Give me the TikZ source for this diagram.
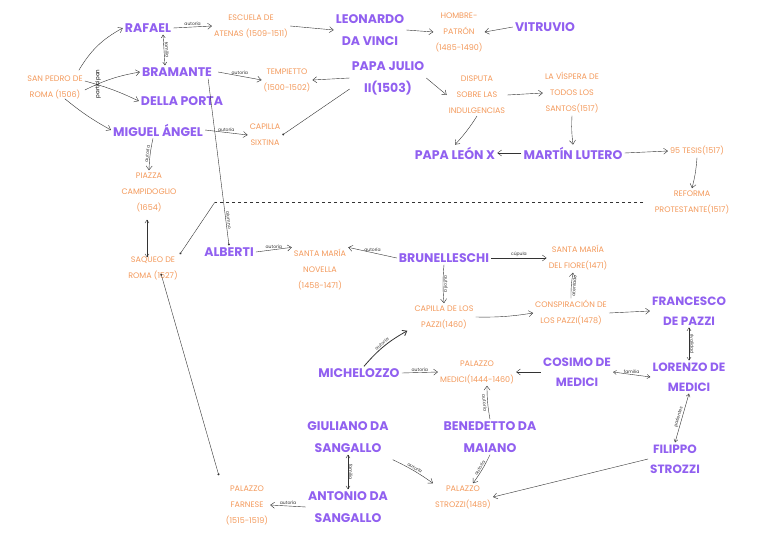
\documentclass[tikz,border=0pt]{standalone}
\usepackage{fontspec}
\setmainfont{Poppins}
\usetikzlibrary{arrows.meta}
\definecolor{pur}{HTML}{9160F0}
\definecolor{ora}{HTML}{F49A5C}
\begin{document}
\begin{tikzpicture}[x=1pt,y=-1pt,
 pn/.style={text=pur,font=\fontsize{12.5}{15}\selectfont\bfseries,align=center,inner sep=2pt},
 on/.style={text=ora,font=\fontsize{8}{16}\selectfont,align=center,inner sep=2pt},
 ar/.style={-{Straight Barb[length=4pt,width=6pt]},thin,black!80},
 dar/.style={{Straight Barb[length=3pt,width=4pt]}-{Straight Barb[length=3pt,width=4pt]},thin,black!80},
 pl/.style={thin,black!80},
 lb/.style={font=\fontsize{4.5}{5}\selectfont,inner sep=1pt}]
\useasboundingbox (0,0) rectangle (768,543);
\fill[white] (0,0) rectangle (768,543);
% nodes
\node[on] (sp) at (55,87) {SAN PEDRO DE\\ROMA (1506)};
\node[pn] (raf) at (148,28) {RAFAEL};
\node[pn] (bra) at (177,72) {BRAMANTE};
\node[pn] (del) at (182,101) {DELLA PORTA};
\node[pn] (mig) at (158,130) {MIGUEL ÁNGEL};
\node[on] (esc) at (251,26) {ESCUELA DE\\ATENAS (1509-1511)};
\node[pn,font=\fontsize{12.5}{22}\selectfont\bfseries] (leo) at (370,30) {LEONARDO\\DA VINCI};
\node[on] (hom) at (459,32) {HOMBRE-\\PATRÓN\\(1485-1490)};
\node[pn] (vit) at (545,27) {VITRUVIO};
\node[on] (tem) at (287,80) {TEMPIETTO\\(1500-1502)};
\node[pn,font=\fontsize{12.5}{22}\selectfont\bfseries] (jul) at (388,78) {PAPA JULIO\\II(1503)};
\node[on] (dis) at (477,95) {DISPUTA\\SOBRE LAS\\INDULGENCIAS};
\node[on] (vis) at (572,93) {LA VÍSPERA DE\\TODOS LOS\\SANTOS(1517)};
\node[on] (six) at (265,135) {CAPILLA\\SIXTINA};
\node[pn] (leon) at (455,153) {PAPA LEÓN X};
\node[pn] (mar) at (573,153) {MARTÍN LUTERO};
\node[on] (tes) at (697,151) {95 TESIS(1517)};
\node[on] (ref) at (692,202) {REFORMA\\PROTESTANTE(1517)};
\node[on] (pia) at (149,192) {PIAZZA\\CAMPIDOGLIO\\(1654)};
\node[on] (saq) at (153,268) {SAQUEO DE\\ROMA (1527)};
\node[pn] (alb) at (229,252) {ALBERTI};
\node[on] (smn) at (320,270) {SANTA MARÍA\\NOVELLA\\(1458-1471)};
\node[pn] (bru) at (444,258) {BRUNELLESCHI};
\node[on] (smf) at (578,258) {SANTA MARÍA\\DEL FIORE(1471)};
\node[on] (cap) at (444,317) {CAPILLA DE LOS\\PAZZI(1460)};
\node[on] (con) at (571,313) {CONSPIRACIÓN DE\\LOS PAZZI(1478)};
\node[pn,font=\fontsize{12}{20}\selectfont\bfseries] (fra) at (689,311) {FRANCESCO\\DE PAZZI};
\node[pn] (mic) at (359,373) {MICHELOZZO};
\node[on] (pme) at (477,372) {PALAZZO\\MEDICI(1444-1460)};
\node[pn,font=\fontsize{12}{20}\selectfont\bfseries] (cos) at (577,372) {COSIMO DE\\MEDICI};
\node[pn,font=\fontsize{12}{20}\selectfont\bfseries] (lor) at (689,377) {LORENZO DE\\MEDICI};
\node[pn,font=\fontsize{12.5}{22}\selectfont\bfseries] (ben) at (490,437) {BENEDETTO DA\\MAIANO};
\node[pn,font=\fontsize{12.5}{22}\selectfont\bfseries] (giu) at (348,437) {GIULIANO DA\\SANGALLO};
\node[pn,font=\fontsize{12.5}{22}\selectfont\bfseries] (ant) at (348,507) {ANTONIO DA\\SANGALLO};
\node[on] (far) at (247,505) {PALAZZO\\FARNESE\\(1515-1519)};
\node[on] (pst) at (463,497) {PALAZZO\\STROZZI(1489)};
\node[pn,font=\fontsize{12}{20}\selectfont\bfseries] (fil) at (675,459) {FILIPPO\\STROZZI};
% connectors
\draw[ar] ([shift={(-6,-3)}]sp.north east) to[bend left=15] (raf.west);
\draw[ar] ([yshift=-3pt]sp.east) to[bend left=8] (bra.west);
\draw[ar] ([yshift=6pt]sp.east) to[bend left=5] (del.west);
\draw[ar] ([xshift=-20pt,yshift=2pt]sp.south east) to[bend right=5] (mig.west);
\node[lb,rotate=90,font=\fontsize{5.5}{6}\selectfont] at (98,84) {participan};
\draw[dar] ([xshift=15pt]raf.south) -- node[lb,sloped,above] {familia} ([xshift=-12pt]bra.north);
\draw[ar] (raf.east) -- node[lb,above] {autoría} (esc.west);
\draw[ar] (esc.east) -- (leo.west);
\draw[ar] (leo.east) -- (hom.west);
\draw[ar] (vit.west) -- (hom.east);
\draw[ar] ([xshift=4pt]bra.east) -- node[lb,above] {autoría} (tem.west);
\draw[ar] (jul.west) -- (tem.east);
\draw[ar] (jul.east) -- (dis.west);
\draw[ar] (dis.east) -- (vis.west);
\draw[ar] (dis.south) to[bend left=5] (leon.north);
\draw[ar] (vis.south) to[bend right=5] (mar.north);
\draw[ar] (mar.west) -- (leon.east);
\draw[ar] (mar.east) -- (tes.west);
\draw[ar] (tes.south) to[bend left=5] (ref.north);
\draw[ar] (mig.east) -- node[lb,above] {autoría} (six.west);
\draw[pl,-{Circle[length=2pt]}] ([yshift=8pt]jul.south west) -- (six.east);
\draw[ar] ([xshift=-5pt]mig.south) to[bend right=5] node[lb,sloped,above] {autoría} (pia.north);
\draw[dar] ([shift={(-2,6)}]pia.south) -- ([xshift=-6pt,yshift=-3pt]saq.north);
\draw[pl,-{Circle[length=2pt]}] ([xshift=-6pt]bra.south east) -- node[pos=0.85,lb,sloped,above] {alumno} (alb.north);
\draw[pl,dashed] (643,202) -- (215,202);
\draw[pl,-{Circle[length=2pt]}] (215,202) -- (saq.north east);
\draw[ar] (alb.east) -- node[lb,above] {autoría} (smn.north west);
\draw[ar] (bru.west) -- node[lb,above] {autoría} (smn.north east);
\draw[ar] (bru.east) -- node[lb,above] {cúpula} (smf.west);
\draw[ar] (bru.south) to[bend right=5] node[lb,sloped,above] {autoría} (cap.north);
\draw[ar] (cap.east) to[bend left=-5] (con.west);
\draw[ar] (con.north) to[bend left=5] node[lb,sloped,below] {atentado} ([xshift=-5pt]smf.south);
\draw[ar] (con.east) -- (fra.west);
\draw[dar] (fra.south) -- node[lb,sloped,above] {rivalidad} (lor.north);
\draw[dar] (cos.east) -- node[lb,above] {familia} (lor.west);
\draw[ar] (cos.west) -- (pme.east);
\draw[ar] (mic.east) -- node[lb,above] {autoría} (pme.west);
\draw[ar,thick] ([xshift=5pt]mic.north) to[bend left=10] node[lb,sloped,above] {autoría} ([xshift=-5pt]cap.south west);
\draw[ar] (ben.north) to[bend left=5] node[lb,sloped,below] {autoría} ([xshift=10pt]pme.south);
\draw[ar] (ben.south) to[bend left=5] node[lb,sloped,above] {autoría} ([xshift=10pt]pst.north);
\draw[ar] ([shift={(2,5)}]giu.south east) to[bend left=5] node[lb,sloped,above] {autoría} (pst.north west);
\draw[dar] (giu.south) -- node[lb,sloped,above] {familia} (ant.north);
\draw[ar] (ant.west) -- node[lb,above] {autoría} (far.east);
\draw[dar] (lor.south) -- node[lb,sloped,above] {parientes} (fil.north);
\draw[ar] (fil.west) -- (pst.east);
\draw[pl,{Circle[length=2pt]}-{Circle[length=2pt]}] ([shift={(-5,-8)}]far.north west) -- ([xshift=8pt,yshift=8pt]saq.south);
\end{tikzpicture}
\end{document}
